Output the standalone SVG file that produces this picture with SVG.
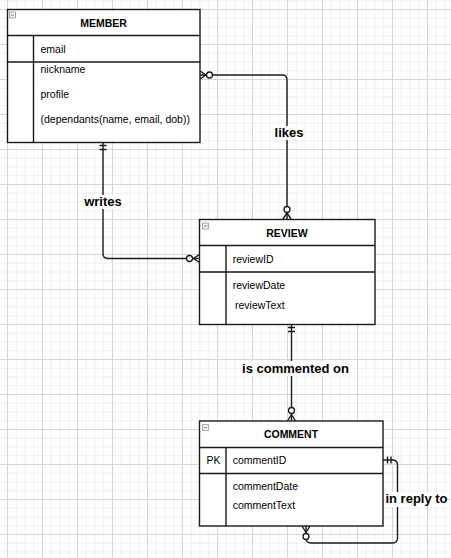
<svg xmlns="http://www.w3.org/2000/svg" width="451" height="558" viewBox="0 0 451 558">
<style>
.ent{fill:#fff;stroke:#1a1a1a;stroke-width:1.4}
.div{stroke:#1a1a1a;stroke-width:1.4;fill:none}
.ttl{font-family:"Liberation Sans",Arial,sans-serif;font-size:10.5px;font-weight:bold;fill:#000;text-anchor:middle}
.att{font-family:"Liberation Sans",Arial,sans-serif;font-size:10.5px;fill:#000}
.lbl{font-family:"Liberation Sans",Arial,sans-serif;font-size:13px;font-weight:bold;fill:#000;text-anchor:middle}
.edge{fill:none;stroke:#1a1a1a;stroke-width:1.4}
.circ{fill:#fff;stroke:#1a1a1a;stroke-width:1.3}
.lblbg{fill:#fff}
.ico{fill:#eee;stroke:#999;stroke-width:0.8}
</style>
<defs>
<pattern id="minor" patternUnits="userSpaceOnUse" x="7" y="9" width="8.75" height="8.75">
<path d="M0,0.5 H8.75 M0.5,0 V8.75" stroke="#f0f0f0" stroke-width="1" fill="none"/>
</pattern>
<pattern id="major" patternUnits="userSpaceOnUse" x="7" y="9" width="35" height="35">
<path d="M0,0.5 H35 M0.5,0 V35" stroke="#d6d6d6" stroke-width="1" fill="none"/>
</pattern>
</defs>
<rect width="451" height="558" fill="#fff"/>
<rect width="451" height="558" fill="url(#minor)"/>
<rect width="451" height="558" fill="url(#major)"/>

<g id="connectors">
  <!-- likes -->
  <path class="edge" d="M200,75 H282 Q287,75 287,80 V219"/>
  <path class="edge" d="M200,71 L206,75 L200,79"/>
  <circle class="circ" cx="209.5" cy="75" r="3"/>
  <path class="edge" d="M283,219 L287,213 L291,219"/>
  <circle class="circ" cx="287" cy="209.5" r="3"/>
  <!-- writes -->
  <path class="edge" d="M103,142.5 V253.5 Q103,258.5 108,258.5 H199.5"/>
  <path class="edge" d="M99.5,145.5 H106.5 M99.5,149.5 H106.5"/>
  <path class="edge" d="M199.5,254.5 L193.5,258.5 L199.5,262.5"/>
  <circle class="circ" cx="189.5" cy="258.5" r="3"/>
  <!-- is commented on -->
  <path class="edge" d="M291.5,324.5 V421"/>
  <path class="edge" d="M288,327.5 H295 M288,331.5 H295"/>
  <path class="edge" d="M287.5,421 L291.5,414.5 L295.5,421"/>
  <circle class="circ" cx="291.5" cy="410.5" r="3"/>
  <!-- in reply to -->
  <path class="edge" d="M383,460 H392.5 Q397.5,460 397.5,465 V538 Q397.5,543 392.5,543 H311 Q306,543 306,538 V526"/>
  <path class="edge" d="M387.5,456.5 V463.5 M391,456.5 V463.5"/>
  <path class="edge" d="M302,526 L306,532.5 L310,526"/>
  <circle class="circ" cx="306" cy="536.5" r="3"/>
  <!-- labels -->
  <rect class="lblbg" x="274.5" y="126" width="29" height="14"/>
  <text class="lbl" x="289" y="136.5">likes</text>
  <rect class="lblbg" x="83.5" y="195" width="39" height="14"/>
  <text class="lbl" x="103" y="206">writes</text>
  <rect class="lblbg" x="241" y="361" width="109" height="15"/>
  <text class="lbl" x="295.5" y="373">is commented on</text>
  <rect class="lblbg" x="385" y="492" width="63" height="15"/>
  <text class="lbl" x="416.5" y="503">in reply to</text>
</g>

<g id="member">
  <rect class="ent" x="7.5" y="9.5" width="192.5" height="133"/>
  <path class="div" d="M7.5,35.5 H200 M7.5,62 H200 M33.5,35.5 V142.5"/>
  <rect class="ico" x="9.5" y="12" width="6" height="6"/>
  <path d="M10.8,15 H14.2" stroke="#777" stroke-width="0.8"/>
  <text class="ttl" x="103.5" y="26.7">MEMBER</text>
  <text class="att" x="40.5" y="52.5">email</text>
  <text class="att" x="40.5" y="72.8">nickname</text>
  <text class="att" x="40.5" y="97.5">profile</text>
  <text class="att" x="40.5" y="122.8">(dependants(name, email, dob))</text>
</g>

<g id="review">
  <rect class="ent" x="199.5" y="219.5" width="175.5" height="105"/>
  <path class="div" d="M199.5,245.5 H375 M199.5,272 H375 M226,245.5 V324.5"/>
  <rect class="ico" x="202.5" y="223" width="6" height="6"/>
  <path d="M203.8,226 H207.2" stroke="#777" stroke-width="0.8"/>
  <text class="ttl" x="287" y="237.3">REVIEW</text>
  <text class="att" x="232.7" y="263.3">reviewID</text>
  <text class="att" x="232.7" y="289.3">reviewDate</text>
  <text class="att" x="235" y="309.3">reviewText</text>
</g>

<g id="comment">
  <rect class="ent" x="199.5" y="421" width="183.5" height="105"/>
  <path class="div" d="M199.5,447.5 H383 M199.5,473.5 H383 M226,447.5 V526"/>
  <rect class="ico" x="202.5" y="424.5" width="6" height="6"/>
  <path d="M203.8,427.5 H207.2" stroke="#777" stroke-width="0.8"/>
  <text class="ttl" x="291" y="437.7">COMMENT</text>
  <text class="att" x="206.5" y="463.7">PK</text>
  <text class="att" x="232.7" y="463.7">commentID</text>
  <text class="att" x="232.7" y="490.3">commentDate</text>
  <text class="att" x="232.7" y="509">commentText</text>
</g>
</svg>
